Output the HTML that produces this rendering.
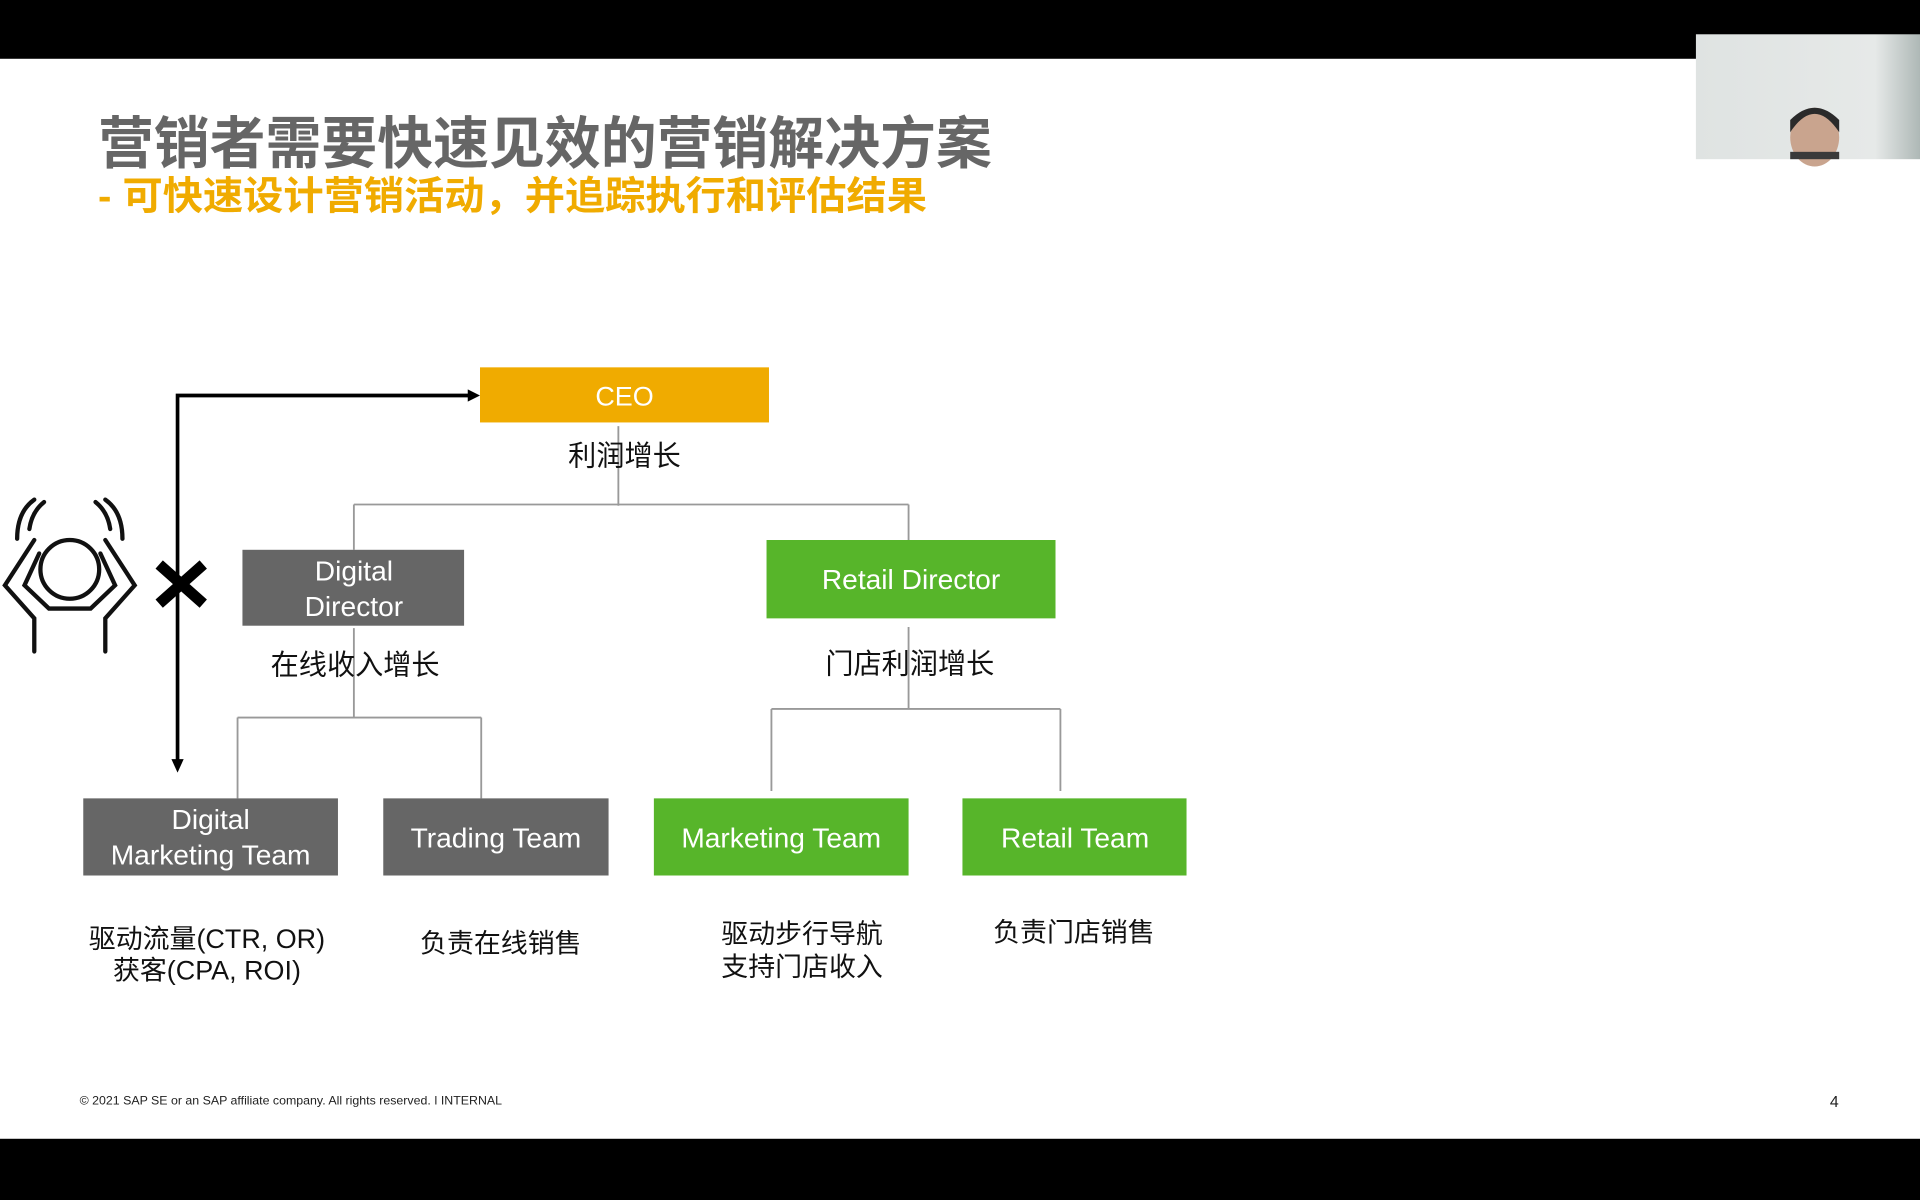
<!DOCTYPE html>
<html><head><meta charset="utf-8"><style>
html,body{margin:0;padding:0;background:#fff;}
svg{display:block;}
text{font-family:"Liberation Sans","Noto Sans CJK SC",sans-serif;}
</style></head><body>
<svg width="1920" height="1200" viewBox="0 0 1568 980" xmlns="http://www.w3.org/2000/svg">
<defs>
<linearGradient id="cam" x1="0" y1="0" x2="1" y2="0">
<stop offset="0" stop-color="#dfe3e2"/><stop offset="0.8" stop-color="#e6e9e8"/><stop offset="1" stop-color="#aeb8b6"/>
</linearGradient>
</defs>
<rect width="1568" height="980" fill="#fff"/>
<rect x="0" y="0" width="1568" height="48" fill="#000"/>
<rect x="0" y="930" width="1568" height="50" fill="#000"/>
<rect x="1385" y="28" width="183" height="102" fill="url(#cam)"/>
<ellipse cx="1482" cy="112" rx="20" ry="24" fill="#c9a48e"/>
<path d="M1462 108 q20 -30 40 0 l0 -10 q-20 -20 -40 0z" fill="#2a2a2a"/>
<rect x="1462" y="124" width="40" height="6" fill="#3a3a3a"/>

<text x="80" y="133" font-size="46" font-weight="bold" fill="#666" textLength="730" lengthAdjust="spacingAndGlyphs">营销者需要快速见效的营销解决方案</text>
<text x="80" y="171" font-size="32" font-weight="bold" fill="#f0ab00" textLength="677" lengthAdjust="spacingAndGlyphs">- 可快速设计营销活动，并追踪执行和评估结果</text>

<g stroke="#999" stroke-width="1.5" fill="none">
<path d="M505 348 V413 M289 412 H742 M289 412 V449 M742 412 V441"/>
<path d="M289 513 V586 M194 586 H393 M194 586 V652 M393 586 V652"/>
<path d="M742 512 V579 M630 579 H866 M630 579 V646 M866 579 V646"/>
</g>

<rect x="392" y="300" width="236" height="45" fill="#f0ab00"/>
<text x="510" y="331" font-size="22" fill="#fff" text-anchor="middle">CEO</text>
<text x="510" y="380" font-size="23" fill="#111" text-anchor="middle">利润增长</text>

<rect x="198" y="449" width="181" height="62" fill="#666"/>
<text x="289" y="474" font-size="23" fill="#fff" text-anchor="middle">Digital</text>
<text x="289" y="503" font-size="23" fill="#fff" text-anchor="middle">Director</text>
<text x="290" y="551" font-size="23" fill="#111" text-anchor="middle">在线收入增长</text>

<rect x="626" y="441" width="236" height="64" fill="#57b52a"/>
<text x="744" y="481" font-size="23" fill="#fff" text-anchor="middle">Retail Director</text>
<text x="743" y="550" font-size="23" fill="#111" text-anchor="middle">门店利润增长</text>

<rect x="68" y="652" width="208" height="63" fill="#666"/>
<text x="172" y="677" font-size="23" fill="#fff" text-anchor="middle">Digital</text>
<text x="172" y="706" font-size="23" fill="#fff" text-anchor="middle">Marketing Team</text>
<rect x="313" y="652" width="184" height="63" fill="#666"/>
<text x="405" y="692" font-size="23" fill="#fff" text-anchor="middle">Trading Team</text>
<rect x="534" y="652" width="208" height="63" fill="#57b52a"/>
<text x="638" y="692" font-size="23" fill="#fff" text-anchor="middle">Marketing Team</text>
<rect x="786" y="652" width="183" height="63" fill="#57b52a"/>
<text x="878" y="692" font-size="23" fill="#fff" text-anchor="middle">Retail Team</text>

<text x="169" y="774" font-size="22" fill="#111" text-anchor="middle">驱动流量(CTR, OR)</text>
<text x="169" y="800" font-size="22" fill="#111" text-anchor="middle">获客(CPA, ROI)</text>
<text x="409" y="778" font-size="22" fill="#111" text-anchor="middle">负责在线销售</text>
<text x="655" y="770" font-size="22" fill="#111" text-anchor="middle">驱动步行导航</text>
<text x="655" y="797" font-size="22" fill="#111" text-anchor="middle">支持门店收入</text>
<text x="877" y="769" font-size="22" fill="#111" text-anchor="middle">负责门店销售</text>

<g stroke="#000" stroke-width="3" fill="none">
<path d="M145 622 V323 H384"/>
</g>
<path d="M392 323 L382 318 L382 328Z" fill="#000"/>
<path d="M145 631 L140 620 L150 620Z" fill="#000"/>
<path d="M130 461 L166 493 M166 461 L130 493" stroke="#000" stroke-width="9"/>

<g stroke="#111" stroke-width="3.5" fill="none" stroke-linecap="round">
<circle cx="57" cy="465" r="24"/>
<path d="M28 441 L4 478 L28 505 V532 M86 441 L110 478 L86 505 V532"/>
<path d="M32 452 L20 478 L40 497 H74 L94 478 L82 452"/>
<path d="M24 432 q2 -14 12 -22 M14 440 q0 -22 14 -32 M90 432 q-2 -14 -12 -22 M100 440 q0 -22 -14 -32"/>
</g>

<text x="65" y="902" font-size="9.5" fill="#222" textLength="345" lengthAdjust="spacingAndGlyphs">© 2021 SAP SE or an SAP affiliate company. All rights reserved.  ǀ   INTERNAL</text>
<text x="1498" y="904" font-size="13" fill="#222" text-anchor="middle">4</text>
</svg>
</body></html>
